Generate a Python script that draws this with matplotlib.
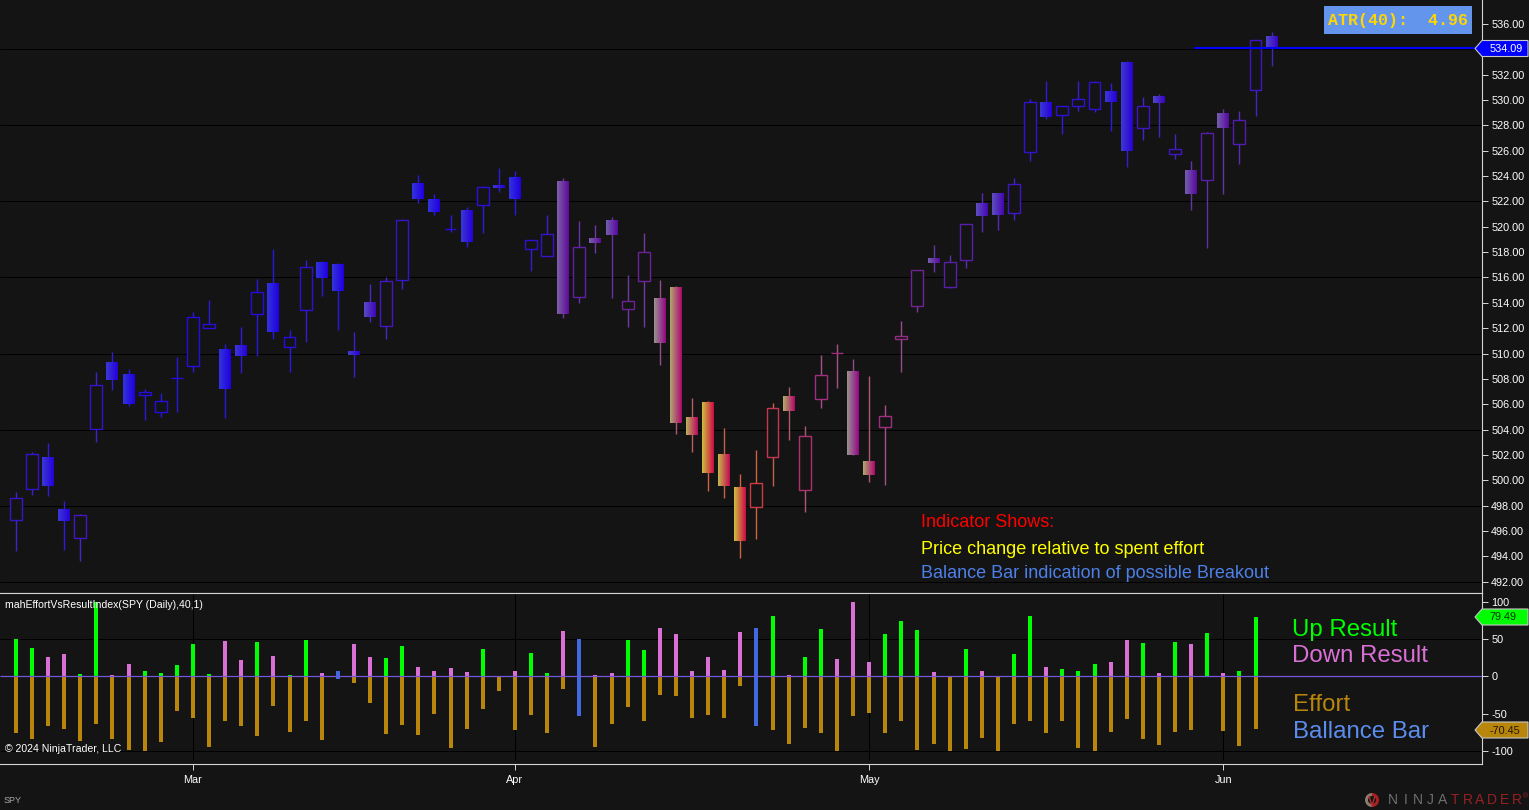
"""SPY daily candles with an effort vs result index panel, NinjaTrader style."""

import matplotlib

matplotlib.use("Agg")
import matplotlib.pyplot as plt
import numpy as np
from matplotlib.patches import Polygon, Rectangle, Wedge

plt.rcParams["font.family"] = ["Liberation Sans", "DejaVu Sans"]

# ---- Price data ----------------------------------------------------
opens = [
    496.88, 499.30, 501.72, 497.69, 495.43, 504.07, 509.23, 508.28, 506.72, 505.38,
    508.10, 509.04, 512.05, 510.25, 510.57, 513.12, 515.47, 510.55, 513.44, 517.13,
    516.97, 510.17, 513.97, 512.20, 515.84, 523.37, 522.10, 519.79, 521.23, 521.73,
    523.21, 523.84, 518.26, 517.70, 523.52, 514.46, 519.10, 520.52, 513.52, 515.73,
    514.36, 515.15, 504.96, 506.07, 501.96, 499.43, 497.87, 501.82, 506.54, 499.22,
    506.41, 510.07, 508.52, 501.41, 504.20, 511.12, 513.75, 517.52, 515.25, 517.42,
    521.79, 522.58, 521.10, 525.87, 529.84, 528.84, 529.55, 529.31, 530.63, 532.92,
    527.83, 530.24, 525.71, 524.47, 523.66, 528.97, 526.50, 530.77, 534.98,
]
highs = [
    499.04, 502.20, 502.91, 498.40, 497.35, 508.52, 510.10, 508.75, 507.17, 506.86,
    509.70, 513.26, 514.20, 510.73, 512.07, 515.86, 518.23, 511.83, 517.36, 517.28,
    517.13, 511.68, 515.47, 516.02, 520.60, 524.08, 522.58, 520.92, 521.55, 523.21,
    524.63, 524.39, 518.92, 520.92, 523.84, 520.44, 520.13, 520.76, 516.18, 519.50,
    515.78, 515.31, 506.46, 506.22, 504.09, 500.46, 502.35, 506.07, 507.33, 504.25,
    509.86, 510.73, 509.54, 508.20, 505.91, 512.54, 516.63, 518.55, 517.76, 520.21,
    522.65, 522.65, 523.84, 530.08, 531.50, 529.50, 531.50, 531.50, 531.34, 533.08,
    530.24, 530.47, 527.32, 525.18, 527.47, 529.29, 529.13, 534.72, 535.37,
]
lows = [
    494.38, 498.80, 498.72, 494.46, 493.59, 503.01, 507.09, 505.83, 504.72, 504.98,
    505.38, 508.52, 512.05, 504.90, 508.44, 509.78, 511.12, 508.52, 510.89, 514.52,
    511.83, 508.12, 512.47, 511.12, 515.07, 521.87, 520.92, 519.57, 518.39, 519.50,
    522.73, 520.92, 516.49, 517.70, 512.78, 513.97, 517.92, 514.36, 512.07, 512.07,
    509.07, 503.62, 502.20, 499.12, 498.56, 493.90, 495.40, 499.51, 503.14, 497.46,
    505.67, 507.25, 501.96, 499.90, 499.59, 508.52, 513.26, 516.41, 515.15, 516.73,
    519.57, 519.73, 520.52, 525.18, 528.50, 527.32, 529.13, 529.05, 527.55, 524.71,
    526.84, 527.08, 525.34, 521.31, 518.31, 522.58, 524.95, 528.74, 532.69,
]
closes = [
    498.62, 502.09, 499.51, 496.75, 497.27, 507.54, 507.88, 505.99, 506.99, 506.28,
    508.10, 512.92, 512.36, 507.17, 509.78, 514.89, 511.68, 511.34, 516.79, 515.94,
    514.91, 509.86, 512.86, 515.76, 520.50, 522.18, 521.15, 519.79, 518.78, 523.18,
    523.05, 522.18, 518.92, 519.47, 513.10, 518.44, 518.71, 519.34, 514.18, 518.05,
    510.81, 504.49, 503.54, 500.54, 499.51, 495.17, 499.80, 505.73, 505.43, 503.52,
    508.33, 510.07, 501.96, 500.38, 505.10, 511.36, 516.63, 517.13, 517.26, 520.21,
    520.84, 520.92, 523.34, 529.82, 528.66, 529.50, 530.06, 531.40, 529.84, 525.97,
    529.50, 529.76, 526.11, 522.58, 527.37, 527.79, 528.40, 534.72, 534.09,
]
# colour of each bar: 0 blue, 1 purple, 2 mauve, 3 yellow/red
bar_tones = [
    0.35, 0.3, 0.1, 0.1, 0.45, 0.3, 0.1, 0.0, 0.0, 0.0,
    0.0, 0.0, 0.05, 0.0, 0.1, 0.0, 0.0, 0.05, 0.15, 0.0,
    0.0, 0.2, 0.5, 0.45, 0.3, 0.0, 0.0, 0.05, 0.1, 0.1,
    0.1, 0.0, 0.15, 0.3, 1.0, 0.9, 1.0, 0.9, 1.1, 1.1,
    1.8, 2.3, 2.6, 3.0, 2.8, 3.0, 3.0, 2.8, 2.4, 2.3,
    2.0, 2.0, 1.8, 2.3, 2.0, 1.8, 1.2, 0.9, 0.8, 0.8,
    0.6, 0.6, 0.4, 0.2, 0.1, 0.1, 0.2, 0.15, 0.1, 0.15,
    0.4, 0.4, 0.4, 0.9, 0.8, 0.9, 0.7, 0.4, 0.4,
]

# ---- Indicator data ------------------------------------------------
results = [
    50.6, 38.5, 26.4, 30.4, 3.6, 100.0, 2.2, 17.0, 7.6, 4.9,
    15.7, 43.8, 3.6, 47.9, 22.4, 46.5, 27.7, 2.2, 49.2, 4.9,
    7.6, 43.8, 26.4, 25.0, 41.0, 13.0, 7.6, 11.6, 6.3, 37.1,
    0.0, 7.6, 31.8, 4.9, 61.3, 50.6, 2.2, 4.9, 49.2, 35.8,
    65.3, 57.3, 7.6, 26.4, 8.9, 60.0, 65.3, 81.4, 2.2, 26.4,
    64.0, 23.7, 100.0, 19.7, 57.3, 74.7, 62.6, 6.3, 0.9, 37.1,
    7.6, 0.9, 30.4, 81.4, 13.0, 10.3, 7.6, 17.0, 19.7, 49.2,
    45.2, 4.9, 46.5, 43.8, 58.6, 4.9, 7.6, 79.49,
]
efforts = [
    -75.6, -83.7, -66.2, -70.2, -86.4, -63.5, -83.7, -98.4, -99.8, -87.7,
    -46.1, -55.5, -94.4, -59.5, -66.2, -79.6, -39.4, -74.3, -59.5, -85.0,
    -3.1, -8.5, -35.3, -77.0, -64.9, -78.3, -50.1, -95.7, -70.2, -43.4,
    -19.2, -71.6, -51.5, -75.6, -16.6, -52.8, -94.4, -63.5, -40.7, -59.5,
    -24.6, -26.0, -55.5, -51.5, -55.5, -12.5, -66.2, -71.6, -90.4, -68.9,
    -75.6, -99.8, -52.8, -48.8, -75.6, -59.5, -98.4, -90.4, -99.8, -97.1,
    -82.3, -99.8, -63.5, -59.5, -75.6, -59.5, -95.7, -99.8, -74.3, -56.8,
    -83.7, -91.7, -74.3, -71.6, 0.0, -72.9, -93.0, -70.45,
]
# U up result, D down result, B balance bar
result_kinds = (
    "UUDDUUDDUU" "UUUDDUDUUD" "BDDUUDDDDU" "DDUUDBDDUU"
    "DDDDDDBUDU" "UDDDUUUDDU" "DDUUDUUUDD" "UDUDUDUU"
)

price_ticks = list(range(492, 537, 2))
price_grid = [492, 498, 504, 510, 516, 522, 528, 534]
index_ticks = [-100, -50, 0, 50, 100]
index_grid = [-100, 50]
month_positions = [11, 31, 53, 75]
month_labels = ["Mar", "Apr", "May", "Jun"]
last_price = 534.09
atr_label = "ATR(40):  4.96"

# ---- Colours -------------------------------------------------------
BG = "#141414"
FRAME = "#d4d4d4"
C_UP = "#00ff00"
C_DOWN = "#da70d6"
C_EFFORT = "#b8860b"
C_BALANCE = "#4169e1"
# gradient stops across the candle body, one pair per tone
TONE_LEFT = np.array([[50, 50, 220], [122, 95, 168], [160, 154, 136], [205, 185, 60]]) / 255
TONE_RIGHT = np.array([[32, 0, 224], [96, 12, 154], [160, 10, 128], [205, 15, 70]]) / 255


def tone_colours(tone):
    lo = int(min(tone, 2))
    f = tone - lo
    left = TONE_LEFT[lo] * (1 - f) + TONE_LEFT[lo + 1] * f
    right = TONE_RIGHT[lo] * (1 - f) + TONE_RIGHT[lo + 1] * f
    return left, right


# ---- Layout in pixels ----------------------------------------------
W, H = 1529, 810
RIGHT = 1481.5
PANEL_SPLIT = 592.5
PANEL_BOTTOM = 763.5
X0, X_STEP = 15.8, 16.1


def add_panel(top, bottom):
    return fig.add_axes([0, 1 - bottom / H, RIGHT / W, (bottom - top) / H], facecolor=BG)


fig = plt.figure(figsize=(W / 100, H / 100), dpi=100, facecolor=BG)
ax_price = add_panel(0, PANEL_SPLIT)
ax_index = add_panel(PANEL_SPLIT, PANEL_BOTTOM)
xlim = (-X0 / X_STEP, (RIGHT - X0) / X_STEP)

# ---- Candles -------------------------------------------------------
body_w = 0.745
for i in range(len(opens)):
    left, right = tone_colours(bar_tones[i])
    wick = (left + right) / 2
    ax_price.vlines(i, lows[i], highs[i], color=wick, lw=1.0, zorder=3)
    top, bot = max(opens[i], closes[i]), min(opens[i], closes[i])
    if closes[i] >= opens[i]:
        ax_price.add_patch(
            Rectangle((i - body_w / 2, bot), body_w, top - bot, fc=BG if top > bot else "none",
                      ec=(left * 0.25 + right * 0.75), lw=1.0, zorder=4)
        )
    else:
        t = np.linspace(0, 1, 12)[None, :, None]
        ax_price.imshow(left[None, None, :] * (1 - t) + right[None, None, :] * t,
                        extent=(i - body_w / 2, i + body_w / 2, bot, top),
                        aspect="auto", interpolation="nearest", zorder=5)

ax_price.hlines(price_grid, *xlim, color="#000000", lw=0.72, zorder=1)
ax_price.hlines(last_price, 73.2, xlim[1], color="#0000ff", lw=1.5, zorder=6)
ax_price.set_xlim(*xlim)
ax_price.set_ylim(491.14, 537.9)
ax_price.set_xticks([])
ax_price.set_yticks(price_ticks, [f"{p:.2f}" for p in price_ticks])

# ---- Indicator -----------------------------------------------------
idx = np.arange(len(results))
res_colours = [{"U": C_UP, "D": C_DOWN, "B": C_BALANCE}[k] for k in result_kinds]
eff_colours = [C_BALANCE if k == "B" else C_EFFORT for k in result_kinds]
# 4 px wide bars; vlines snap to a constant width, bar() does not
ax_index.vlines(idx, 0, results, colors=res_colours, lw=2.88, zorder=3)
ax_index.vlines(idx, 0, efforts, colors=eff_colours, lw=2.88, zorder=3)
ax_index.hlines(index_grid, *xlim, color="#000000", lw=0.72, zorder=1)
ax_index.vlines(month_positions, -112, 113, color="#000000", lw=0.72, zorder=1)
ax_index.hlines(0, *xlim, color="#7357d8", lw=0.9, zorder=4)
ax_index.set_xlim(*xlim)
ax_index.set_ylim(-116.8, 112.5)
ax_index.set_xticks(month_positions, month_labels)
ax_index.set_yticks(index_ticks, [str(v) for v in index_ticks])

for ax in (ax_price, ax_index):
    ax.yaxis.tick_right()
    ax.tick_params(axis="y", length=4, width=0.72, color=FRAME, labelcolor="white",
                   labelsize=7.8, pad=3)
    ax.tick_params(axis="x", length=4, width=0.72, color=FRAME, labelcolor="white",
                   labelsize=7.8, pad=4.5)
    ax.spines["left"].set_visible(False)
    for side in ("top", "right", "bottom"):
        ax.spines[side].set_color(FRAME)
        ax.spines[side].set_linewidth(0.8)
ax_price.spines["top"].set_visible(False)

# ---- Overlay: everything placed in screen pixels -------------------
ov = fig.add_axes([0, 0, 1, 1], facecolor="none", zorder=10)
ov.set_xlim(0, W)
ov.set_ylim(H, 0)
ov.axis("off")


def price_flag(y, fill, text, text_colour):
    ov.add_patch(Polygon([(1475, y), (1482, y - 8), (1528, y - 8), (1528, y + 8), (1482, y + 8)],
                         closed=True, fc=fill, ec="#c8c8c8", lw=0.8))
    ov.text(1490, y + 0.5, text, color=text_colour, fontsize=7.8, va="center", ha="left")


price_flag(48.5, "#0000ff", f"{last_price:.2f}", "white")
price_flag(617, C_UP, f"{results[-1]:.2f}", "#063006")
price_flag(730, C_EFFORT, f"{efforts[-1]:.2f}", "#201400")

ov.add_patch(Rectangle((1324, 6), 148, 28, fc="#6495ed", ec="none"))
ov.text(1328, 20, atr_label, family="Liberation Mono", weight="bold", color="#ffd700",
        fontsize=12, va="center", ha="left")

ov.text(921, 522.5, "Indicator Shows:", color="#ff0000", fontsize=13, va="center")
ov.text(921, 549, "Price change relative to spent effort", color="#ffff00", fontsize=13, va="center")
ov.text(921, 573, "Balance Bar indication of possible Breakout", color="#4d80e8", fontsize=13, va="center")

ov.text(1292, 630, "Up Result", color=C_UP, fontsize=17.3, va="center")
ov.text(1292, 656, "Down Result", color=C_DOWN, fontsize=17.3, va="center")
ov.text(1293, 705, "Effort", color=C_EFFORT, fontsize=17.3, va="center")
ov.text(1293, 732, "Ballance Bar", color="#5b8dee", fontsize=17.3, va="center")

ov.text(5, 604.5, "mahEffortVsResultIndex(SPY (Daily),40,1)", color="white", fontsize=7.6, va="center")
ov.text(5, 749.5, "\u00a9 2024 NinjaTrader, LLC", color="white", fontsize=7.6, va="center")
ov.text(4, 800.5, "SPY", color="#a8a8a8", fontsize=6.5, va="center")

# logo
ov.add_patch(Wedge((1372, 800), 7, 90, 270, width=3, fc="#8a7a70", ec="none"))
ov.add_patch(Wedge((1372, 800), 7, 270, 90, width=3, fc="#a82020", ec="none"))
ov.add_patch(Polygon([(1369, 796), (1372, 806), (1375, 796)], closed=False, fill=False,
                     ec="#b03030", lw=1))
for n, ch in enumerate("NINJATRADER"):
    ov.text(1393 + n * 12.4, 800.5, ch, color="#6e6e6e" if n < 5 else "#962222",
            fontsize=10, va="center", ha="center")
ov.text(1523, 797, "\u00ae", color="#962222", fontsize=5, va="center")

fig.savefig("out.png", dpi=100, facecolor=BG)
plt.close(fig)
